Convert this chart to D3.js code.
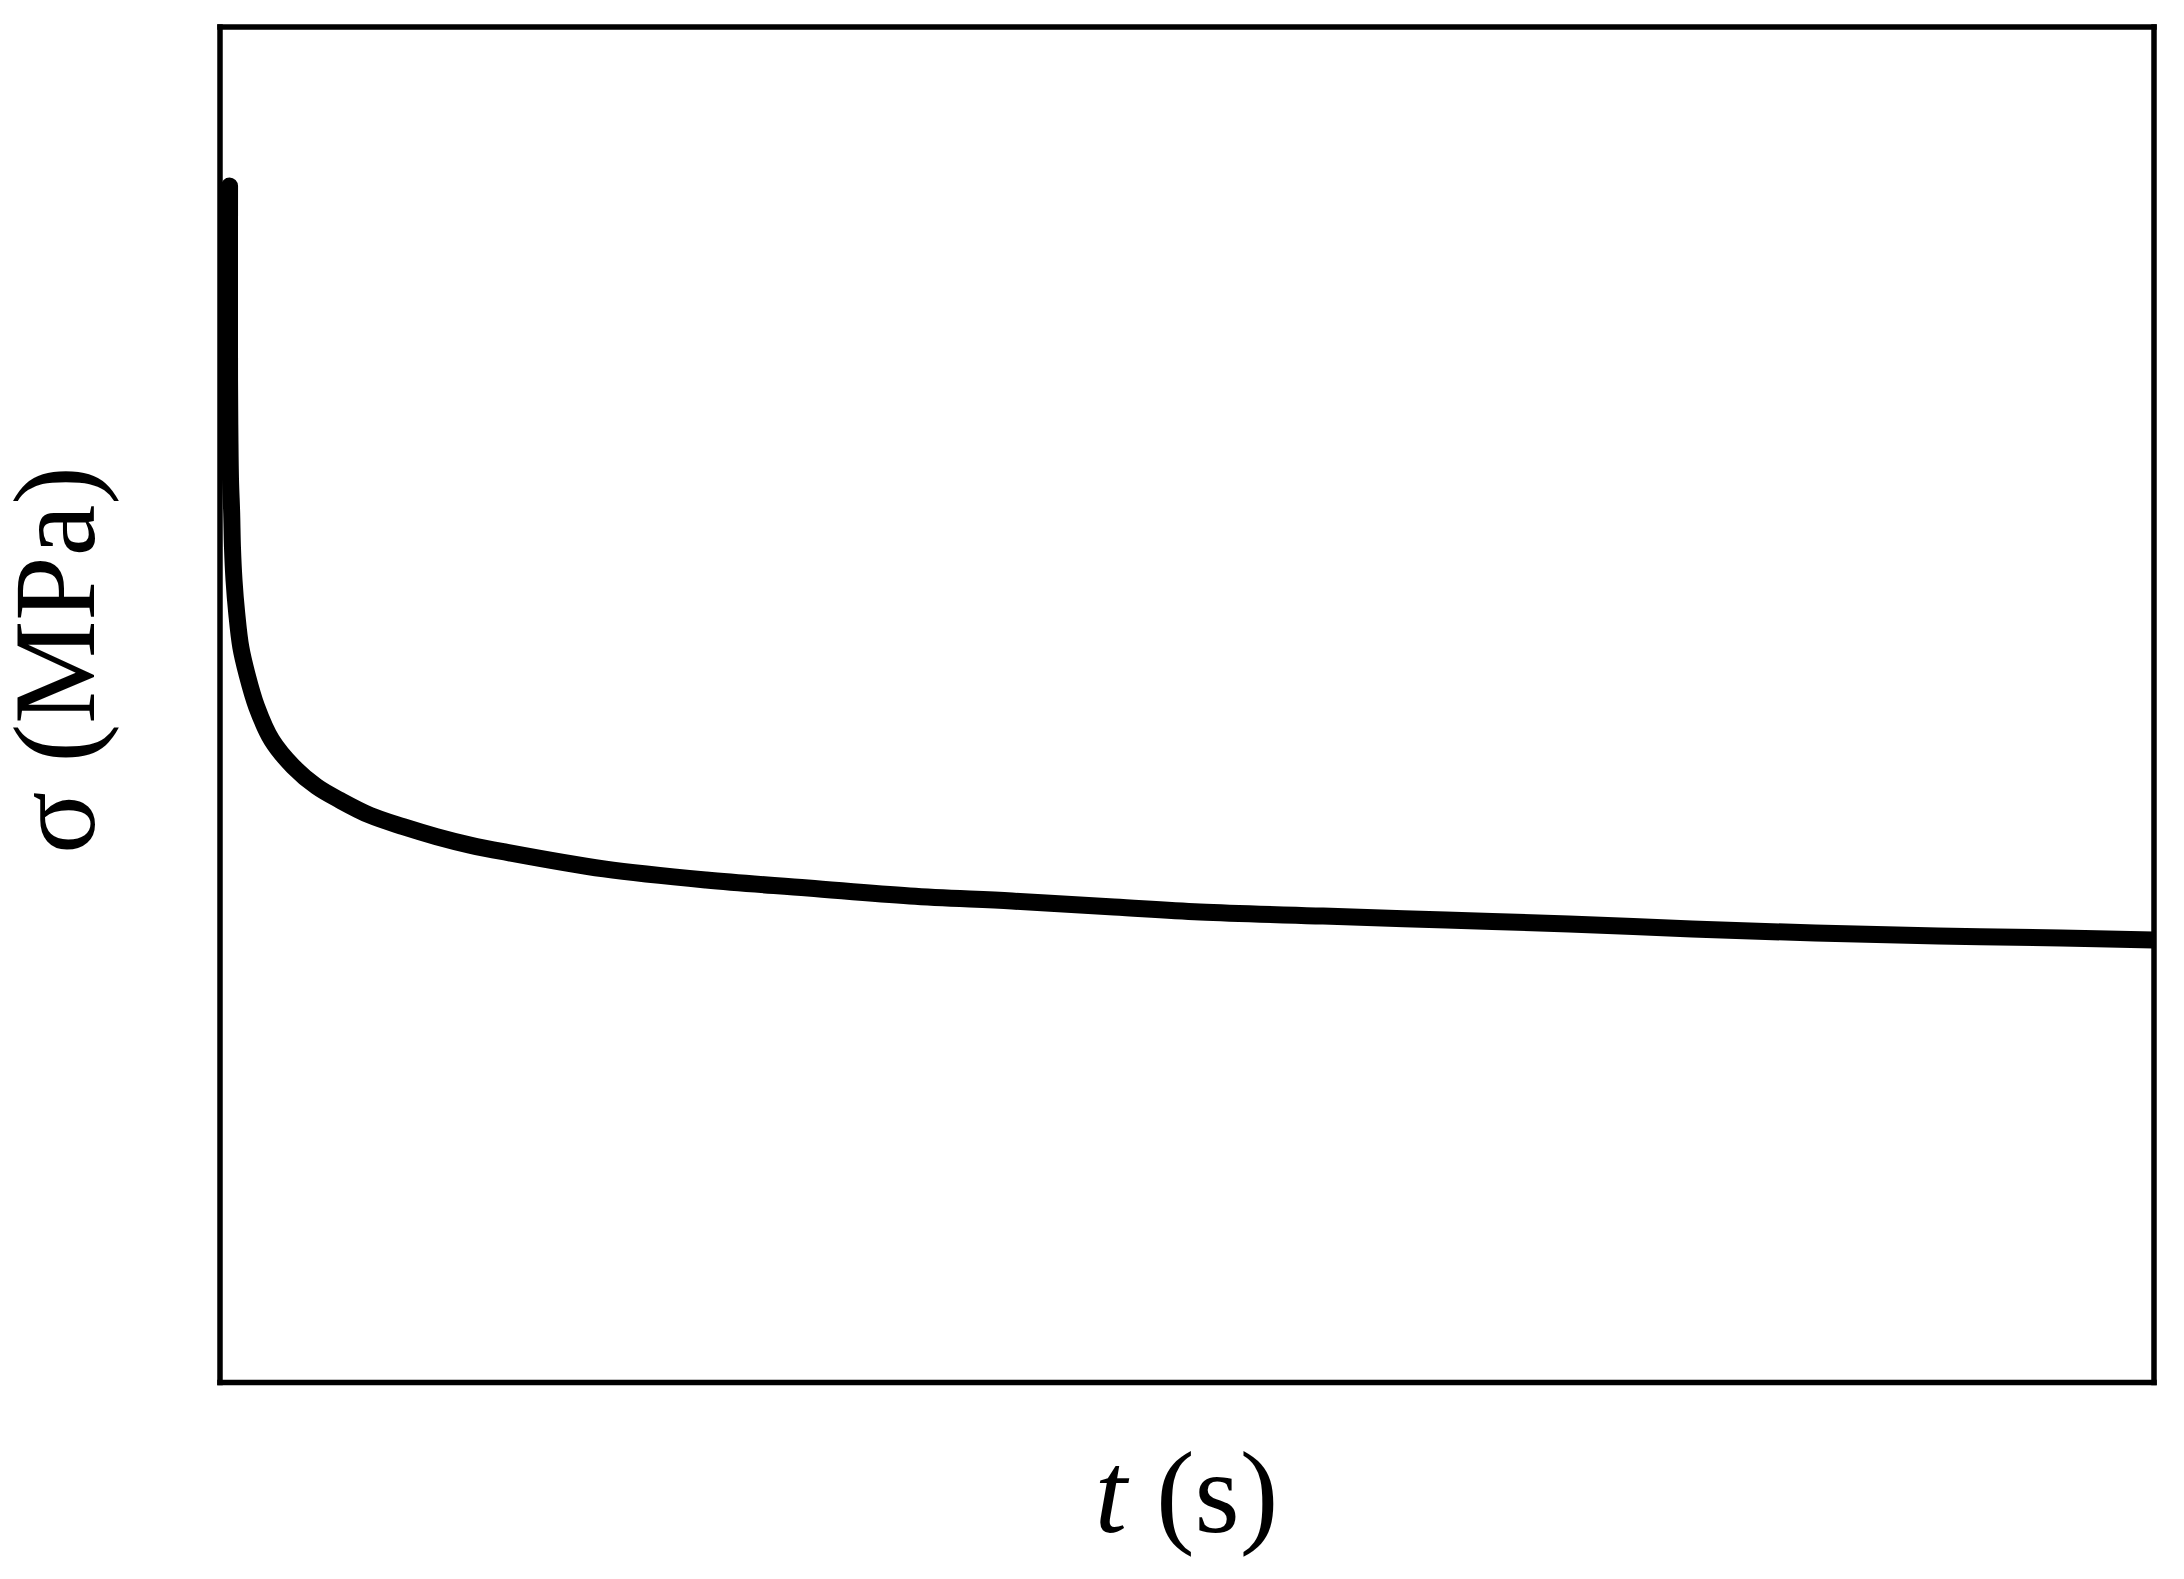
<!DOCTYPE html>
<html>
<head>
<meta charset="utf-8">
<title>Stress relaxation</title>
<script src="https://cdn.jsdelivr.net/npm/d3@7"></script>
<style>
  body { margin: 0; background: #fff; }
  text { font-family: "Liberation Serif", "Times New Roman", serif; fill: #000; }
</style>
</head>
<body>
<svg id="chart" width="2184" height="1579"></svg>
<script>
// values (no tick labels, so arbitrary units)
const timeDomain = [0, 1000];
const stressDomain = [0, 100];
const timeValues = [5.2, 5.2, 5.4, 5.7, 6.3, 6.7, 7.5, 8.9, 11.0, 14.1, 19.2, 27.0, 38.2, 50.3,
    62.3, 77.8, 95.0, 112.3, 129.5, 146.7, 198.8, 251.6, 304.3, 357.0, 409.8, 462.5, 507.0,
    570.6, 634.2, 697.8, 761.4, 825.0, 888.6, 952.2, 1000];
const stressValues = [88.23, 73.92, 69.72, 66.55, 64.11, 61.60, 59.17, 56.73, 54.22, 52.28, 49.82, 47.36, 45.39, 43.92,
    42.92, 41.81, 40.97, 40.23, 39.61, 39.12, 37.85, 37.03, 36.44, 35.85, 35.48, 35.04, 34.67,
    34.37, 34.08, 33.79, 33.42, 33.12, 32.90, 32.76, 32.61];
const xLabelVar = "t";
const xLabelUnit = " (s)";
const yLabel = "σ (MPa)";

const svg = d3.select("#chart");
const plotLeft = 219.5, plotRight = 2153.5, plotTop = 26.5, plotBottom = 1382;

const x = d3.scaleLinear().domain(timeDomain).range([plotLeft, plotRight]);
const y = d3.scaleLinear().domain(stressDomain).range([plotBottom, plotTop]);

svg.append("clipPath").attr("id", "plotclip")
    .append("rect")
    .attr("x", plotLeft).attr("y", 0)
    .attr("width", plotRight - plotLeft).attr("height", 1579);

const points = timeValues.map((t, i) => [t, stressValues[i]]);
const line = d3.line()
    .x(d => x(d[0]))
    .y(d => y(d[1]))
    .curve(d3.curveCatmullRom.alpha(0.5));

svg.append("path")
    .datum(points)
    .attr("clip-path", "url(#plotclip)")
    .attr("d", line)
    .attr("fill", "none")
    .attr("stroke", "#000")
    .attr("stroke-width", 17)
    .attr("stroke-linecap", "round")
    .attr("stroke-linejoin", "round");

// frame: four axes with no ticks
function frame(g) {
    g.selectAll(".domain")
        .attr("stroke", "#000")
        .attr("stroke-width", 5.5)
        .attr("stroke-linecap", "square");
}
svg.append("g").attr("transform", `translate(0,${plotBottom})`)
    .call(d3.axisBottom(x).tickValues([]).tickSizeOuter(0)).call(frame);
svg.append("g").attr("transform", `translate(0,${plotTop})`)
    .call(d3.axisTop(x).tickValues([]).tickSizeOuter(0)).call(frame);
svg.append("g").attr("transform", `translate(${plotLeft},0)`)
    .call(d3.axisLeft(y).tickValues([]).tickSizeOuter(0)).call(frame);
svg.append("g").attr("transform", `translate(${plotRight},0)`)
    .call(d3.axisRight(y).tickValues([]).tickSizeOuter(0)).call(frame);

// axis titles
const xt = svg.append("text")
    .attr("x", (plotLeft + plotRight) / 2)
    .attr("y", 1532)
    .attr("text-anchor", "middle")
    .attr("font-size", 116);
xt.append("tspan").attr("font-style", "italic").text(xLabelVar);
xt.append("tspan").text(xLabelUnit);

svg.append("text")
    .attr("transform", "translate(94,660) rotate(-90)")
    .attr("text-anchor", "middle")
    .attr("font-size", 116)
    .text(yLabel);
</script>
</body>
</html>
